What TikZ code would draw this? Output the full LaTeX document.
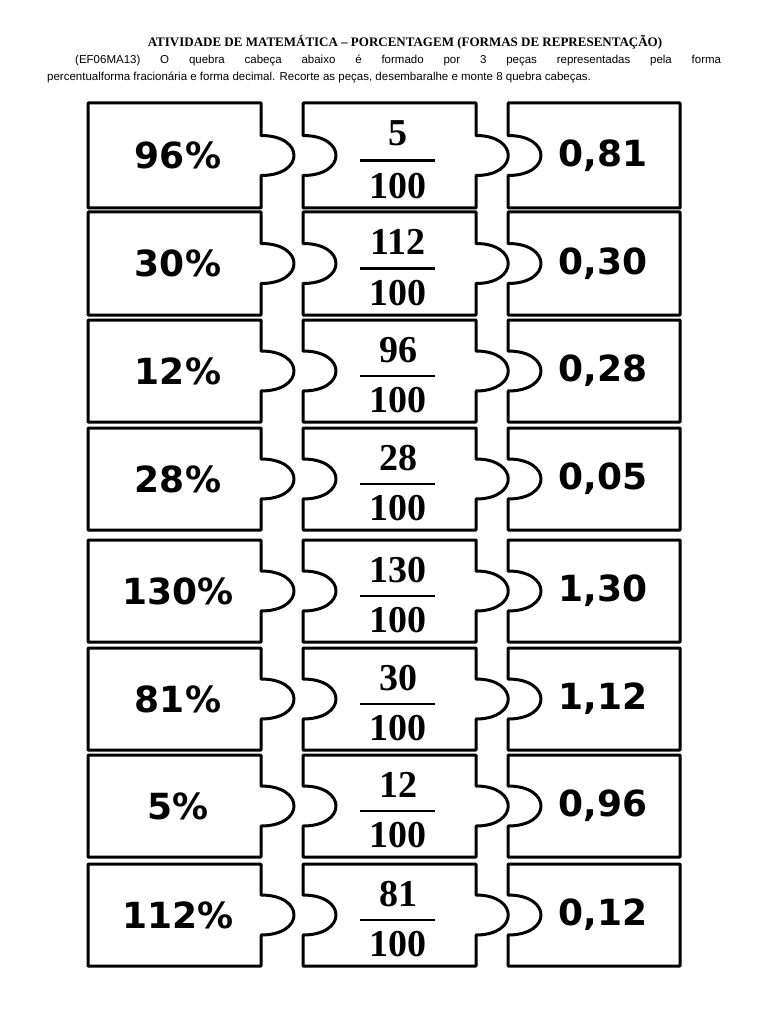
\documentclass[tikz,border=0pt]{standalone}
\usepackage{fontspec}
\setmainfont{Liberation Serif}
\newfontfamily\numfont{DejaVu Sans}
\newfontfamily\bodyfont{Liberation Sans}
\begin{document}
\begin{tikzpicture}[x=1pt,y=-1pt,line join=round,
  piece/.style={draw=black,line width=3pt,fill=white},
  pct/.style={font=\numfont\bfseries\fontsize{36}{36}\selectfont,inner sep=0},
  frac/.style={font=\bfseries\fontsize{38}{38}\selectfont,inner sep=0},
  dec/.style={font=\numfont\bfseries\fontsize{36}{36}\selectfont,inner sep=0}]
\useasboundingbox (0,0) rectangle (768,1024);
\fill[white] (0,0) rectangle (768,1024);
\node[font=\bfseries\fontsize{13}{13}\selectfont,inner sep=0] (title) at (405,42) {ATIVIDADE DE MATEMÁTICA – PORCENTAGEM (FORMAS DE REPRESENTAÇÃO)};
\node[font=\bodyfont\fontsize{11.5}{11.5}\selectfont,inner sep=0,anchor=west] (l2) at (75,60) {\makebox[646pt][s]{(EF06MA13) O quebra cabeça abaixo é formado por 3 peças representadas pela forma}};
\node[font=\bodyfont\fontsize{11.5}{11.5}\selectfont,inner sep=0,anchor=west] (l3) at (47,77) {percentualforma fracionária e forma decimal. Recorte as peças, desembaralhe e monte 8 quebra cabeças.};
\foreach \t/\b/\p/\n/\d [count=\i] in {103/208/96\%/5/{0,81}, 212/315/30\%/112/{0,30}, 320/422/12\%/96/{0,28}, 428/530/28\%/28/{0,05}, 540/642/130\%/130/{1,30}, 648/750/81\%/30/{1,12}, 755/857/5\%/12/{0,96}, 864/966/112\%/81/{0,12}}{
  \pgfmathsetmacro\ta{(\t+\b)/2-20}
  \pgfmathsetmacro\tb{(\t+\b)/2+20}
  \pgfmathsetmacro\mid{(\t+\b)/2}
  \draw[piece] (88,\t) -- (261,\t) -- (261,\ta) .. controls (305,\ta) and (305,\tb) .. (261,\tb) -- (261,\b) -- (88,\b) -- cycle;
  \draw[piece] (303,\t) -- (476,\t) -- (476,\ta) .. controls (519,\ta) and (519,\tb) .. (476,\tb) -- (476,\b) -- (303,\b) -- (303,\tb) .. controls (347,\tb) and (347,\ta) .. (303,\ta) -- cycle;
  \draw[piece] (508,\t) -- (680,\t) -- (680,\b) -- (508,\b) -- (508,\tb) .. controls (552,\tb) and (552,\ta) .. (508,\ta) -- cycle;
  \node[pct] (p\i) at (178,\mid) {\p};
  \node[frac] (n\i) at (398,\t+30) {\n};
  \node[frac] (m\i) at (398,\b-22) {100};
  \draw[line width=2.4pt] (360,\mid+5) -- (435,\mid+5);
  \node[dec] (d\i) at (603,\mid) {\d};
}
\end{tikzpicture}
\end{document}
